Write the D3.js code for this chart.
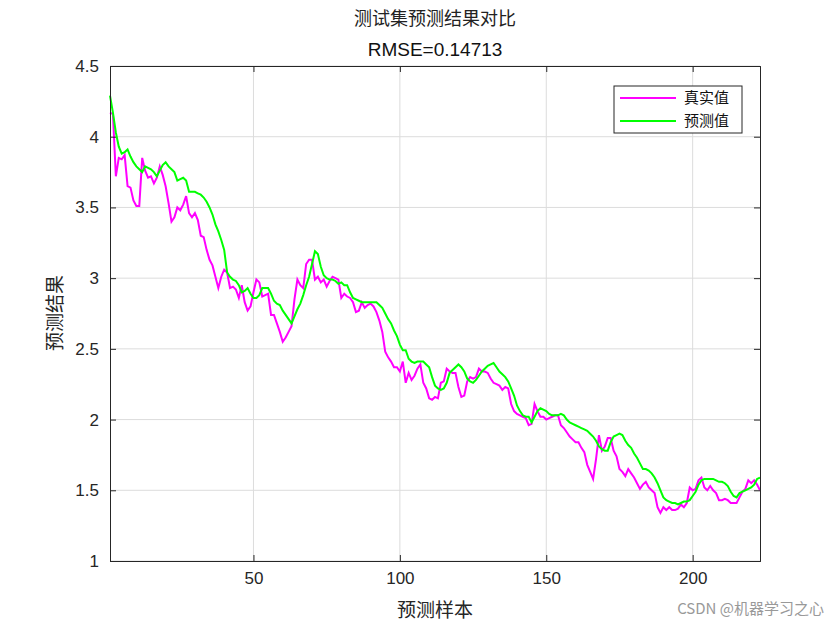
<!DOCTYPE html>
<html><head><meta charset="utf-8">
<script src="https://cdn.jsdelivr.net/npm/d3@7"></script>
<style>body{margin:0;background:#fff}</style></head>
<body><svg id="c" width="840" height="630"></svg>
<script>
const trueVals=[4.17,4.16,3.72,3.85,3.84,3.87,3.65,3.64,3.55,3.51,
3.51,3.85,3.76,3.71,3.72,3.67,3.71,3.79,3.73,3.65,
3.53,3.40,3.43,3.50,3.48,3.52,3.58,3.46,3.43,3.46,
3.41,3.30,3.29,3.20,3.13,3.09,3.01,2.93,3.01,3.06,
3.04,2.93,2.94,2.92,2.86,2.95,2.83,2.77,2.80,2.90,
2.99,2.97,2.87,2.88,2.89,2.74,2.74,2.68,2.62,2.55,
2.58,2.62,2.66,2.85,2.99,2.95,2.93,3.10,3.13,3.13,
2.99,3.01,2.97,2.99,2.94,2.98,3.01,3.00,2.99,2.86,
2.89,2.87,2.86,2.83,2.76,2.77,2.83,2.79,2.81,2.82,
2.80,2.76,2.70,2.62,2.48,2.44,2.41,2.37,2.37,2.34,
2.41,2.26,2.33,2.28,2.31,2.36,2.39,2.26,2.22,2.15,
2.14,2.16,2.15,2.26,2.27,2.36,2.34,2.33,2.33,2.23,
2.16,2.17,2.27,2.30,2.29,2.30,2.36,2.34,2.34,2.33,
2.29,2.26,2.25,2.24,2.21,2.23,2.22,2.11,2.06,2.04,
2.03,2.02,2.01,1.96,1.97,2.11,2.06,2.02,2.02,2.00,
2.01,2.02,2.03,2.03,1.96,1.94,1.91,1.88,1.86,1.84,
1.84,1.80,1.77,1.68,1.63,1.58,1.72,1.89,1.78,1.81,
1.87,1.87,1.78,1.74,1.65,1.63,1.60,1.65,1.62,1.59,
1.55,1.51,1.54,1.56,1.52,1.50,1.48,1.38,1.34,1.38,
1.36,1.38,1.36,1.36,1.37,1.40,1.38,1.41,1.52,1.50,
1.51,1.57,1.59,1.52,1.50,1.53,1.50,1.48,1.43,1.43,
1.44,1.43,1.41,1.41,1.41,1.45,1.49,1.51,1.57,1.55,
1.57,1.54,1.50];
const predVals=[4.29,4.17,4.03,3.93,3.88,3.89,3.91,3.86,3.82,3.79,
3.77,3.75,3.79,3.78,3.77,3.75,3.72,3.76,3.80,3.82,
3.79,3.77,3.75,3.69,3.70,3.71,3.69,3.61,3.61,3.61,
3.60,3.59,3.57,3.54,3.50,3.45,3.38,3.33,3.27,3.20,
3.04,3.01,2.99,2.98,2.95,2.90,2.91,2.93,2.89,2.86,
2.86,2.88,2.93,2.93,2.93,2.89,2.84,2.82,2.81,2.77,
2.74,2.71,2.68,2.73,2.78,2.82,2.88,2.95,3.01,3.10,
3.19,3.17,3.08,3.02,3.00,2.99,2.99,2.98,2.96,2.97,
2.95,2.95,2.90,2.86,2.85,2.84,2.83,2.83,2.83,2.83,
2.83,2.83,2.81,2.79,2.75,2.71,2.68,2.63,2.59,2.53,
2.49,2.49,2.43,2.41,2.40,2.41,2.41,2.41,2.39,2.37,
2.30,2.24,2.22,2.21,2.22,2.26,2.33,2.35,2.37,2.39,
2.37,2.34,2.29,2.27,2.26,2.28,2.31,2.34,2.36,2.38,
2.39,2.40,2.37,2.34,2.32,2.30,2.27,2.22,2.17,2.10,
2.06,2.03,2.02,2.02,1.98,2.02,2.06,2.08,2.07,2.06,
2.04,2.03,2.03,2.03,2.04,2.03,2.00,1.98,1.97,1.96,
1.95,1.94,1.93,1.92,1.90,1.88,1.85,1.81,1.79,1.78,
1.78,1.84,1.88,1.89,1.90,1.89,1.85,1.82,1.80,1.76,
1.73,1.69,1.65,1.65,1.64,1.62,1.59,1.55,1.50,1.45,
1.43,1.42,1.41,1.41,1.40,1.41,1.42,1.42,1.43,1.46,
1.49,1.54,1.57,1.58,1.58,1.58,1.58,1.57,1.56,1.56,
1.55,1.53,1.49,1.46,1.45,1.48,1.49,1.50,1.51,1.52,
1.54,1.58,1.59];
const xTicks=[50,100,150,200];
const yTicks=[1,1.5,2,2.5,3,3.5,4,4.5];
const seriesNames=["真实值","预测值"];
const colors=["#ff00ff","#00ff00"];

const svg=d3.select("#c");
const L=110,R=760,T=66,B=561;
const N=trueVals.length;
const x=d3.scaleLinear().domain([1,N]).range([L,R]);
const y=d3.scaleLinear().domain([1,4.5]).range([B,T]);
const num="'Liberation Sans',Arial,sans-serif", cjk="'Noto Sans CJK SC',sans-serif";

svg.append("g").selectAll("line").data(xTicks).join("line")
 .attr("x1",d=>x(d)).attr("x2",d=>x(d)).attr("y1",T).attr("y2",B).attr("stroke","#dcdcdc");
svg.append("g").selectAll("line").data(yTicks).join("line")
 .attr("y1",d=>y(d)).attr("y2",d=>y(d)).attr("x1",L).attr("x2",R).attr("stroke","#dcdcdc");

const line=d3.line().x((d,i)=>x(i+1)).y(d=>y(d));
[trueVals,predVals].forEach((s,k)=>svg.append("path").datum(s).attr("d",line)
 .attr("fill","none").attr("stroke",colors[k]).attr("stroke-width",2));

const ax=svg.append("g").attr("transform",`translate(0,${B})`).call(d3.axisBottom(x).tickValues(xTicks).tickSize(-6).tickPadding(11));
const axT=svg.append("g").attr("transform",`translate(0,${T})`).call(d3.axisTop(x).tickValues(xTicks).tickSize(-6).tickFormat(""));
const ay=svg.append("g").attr("transform",`translate(${L},0)`).call(d3.axisLeft(y).tickValues(yTicks).tickSize(-6).tickPadding(11).tickFormat(d3.format("")));
const ayR=svg.append("g").attr("transform",`translate(${R},0)`).call(d3.axisRight(y).tickValues(yTicks).tickSize(-6).tickFormat(""));
[ax,axT,ay,ayR].forEach(g=>{g.selectAll("path,line").attr("stroke","#262626");
 g.selectAll("text").attr("font-family",num).attr("font-size",17).attr("fill","#262626");});

svg.append("text").attr("x",435).attr("y",25).attr("text-anchor","middle").attr("font-family",cjk).attr("font-size",18).attr("fill","#222").text("测试集预测结果对比");
svg.append("text").attr("x",435).attr("y",56).attr("text-anchor","middle").attr("font-family",num).attr("font-size",19).attr("fill","#111").text("RMSE=0.14713");
svg.append("text").attr("x",435).attr("y",617).attr("text-anchor","middle").attr("font-family",cjk).attr("font-size",19).attr("fill","#262626").text("预测样本");
svg.append("text").attr("transform","translate(62,313) rotate(-90)").attr("text-anchor","middle").attr("font-family",cjk).attr("font-size",19).attr("fill","#262626").text("预测结果");

const lg=svg.append("g");
lg.append("rect").attr("x",614).attr("y",86).attr("width",128).attr("height",47).attr("fill","#fff").attr("stroke","#262626");
seriesNames.forEach((n,i)=>{
 const yy=98+i*23;
 lg.append("line").attr("x1",620).attr("x2",676).attr("y1",yy).attr("y2",yy).attr("stroke",colors[i]).attr("stroke-width",2);
 lg.append("text").attr("x",684).attr("y",yy+5).attr("font-family",cjk).attr("font-size",15).attr("fill","#111").text(n);
});
svg.append("text").attr("x",824).attr("y",614).attr("text-anchor","end").attr("font-family",cjk).attr("font-size",15).attr("fill","#999").text("CSDN @机器学习之心");
</script></body></html>
